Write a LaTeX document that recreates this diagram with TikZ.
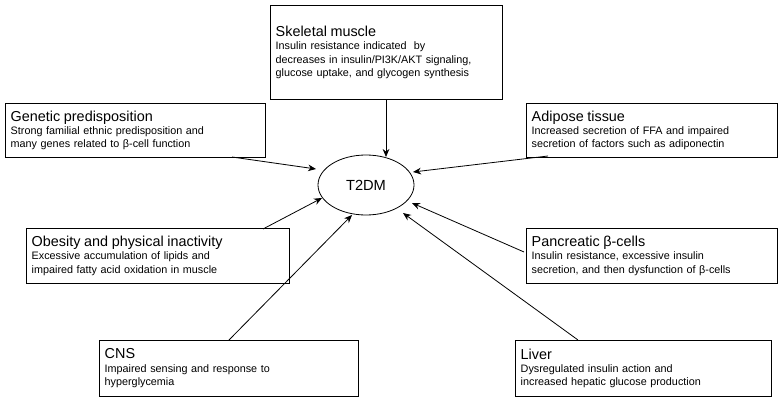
\documentclass[tikz,border=0pt]{standalone}
\usepackage{fontspec}
\setmainfont{Liberation Sans}
\usetikzlibrary{arrows.meta,shapes.geometric}
\begin{document}
\begin{tikzpicture}[x=0.75pt,y=-0.75pt,
 box/.style={draw,line width=0.6pt,anchor=north west,align=left,inner xsep=4pt,inner ysep=3pt,font=\fontsize{8.1}{10}\selectfont},
 arr/.style={-{Stealth[length=6pt,width=5pt]},line width=0.6pt}]
\useasboundingbox (0,0) rectangle (781,403);
\newcommand{\ttl}[1]{{\fontsize{10.8}{13.5}\selectfont #1}\\}
\node[box,text width=166pt,minimum height=70.5pt] (sk) at (270,5) {\ttl{Skeletal muscle}Insulin resistance indicated\ \ by\\decreases in insulin/PI3K/AKT signaling,\\glucose uptake, and glycogen synthesis};
\node[box,text width=187pt,minimum height=40.5pt] (ge) at (5,103) {\ttl{Genetic predisposition}Strong familial ethnic predisposition and\\many genes related to β-cell function};
\node[box,text width=180pt,minimum height=40.5pt] (ad) at (526,103) {\ttl{Adipose tissue}Increased secretion of FFA and impaired\\secretion of factors such as adiponectin};
\node[box,text width=189pt,minimum height=41pt] (ob) at (26,228) {\ttl{Obesity and physical inactivity}Excessive accumulation of lipids and\\impaired fatty acid oxidation in muscle};
\node[box,text width=180pt,minimum height=41pt] (pa) at (526,228) {\ttl{Pancreatic β-cells}Insulin resistance, excessive insulin\\secretion, and then dysfunction of β-cells};
\node[box,text width=186pt,minimum height=42pt] (cn) at (99,340) {\ttl{CNS}Impaired sensing and response to\\hyperglycemia};
\node[box,text width=184pt,minimum height=42pt] (li) at (515,340) {\ttl{Liver}Dysregulated insulin action and\\increased hepatic glucose production};
\node[draw,ellipse,line width=0.6pt,minimum width=72pt,minimum height=45pt,font=\fontsize{11}{13}\selectfont] (t2) at (366,185) {T2DM};
\draw[arr] (sk.south -| 386,0) -- (386,157);
\coordinate (g1) at (232,157); \draw[arr] (g1) -- (316,169);
\coordinate (a1) at (548,156); \draw[arr] (a1) -- (413,172);
\coordinate (o1) at (263,229); \draw[arr] (o1) -- (322,198);
\coordinate (p1) at (524,252); \draw[arr] (p1) -- (412,203);
\coordinate (c1) at (229,340); \draw[arr] (c1) -- (352,215);
\coordinate (l1) at (578,340); \draw[arr] (l1) -- (403,213);
\end{tikzpicture}
\end{document}
